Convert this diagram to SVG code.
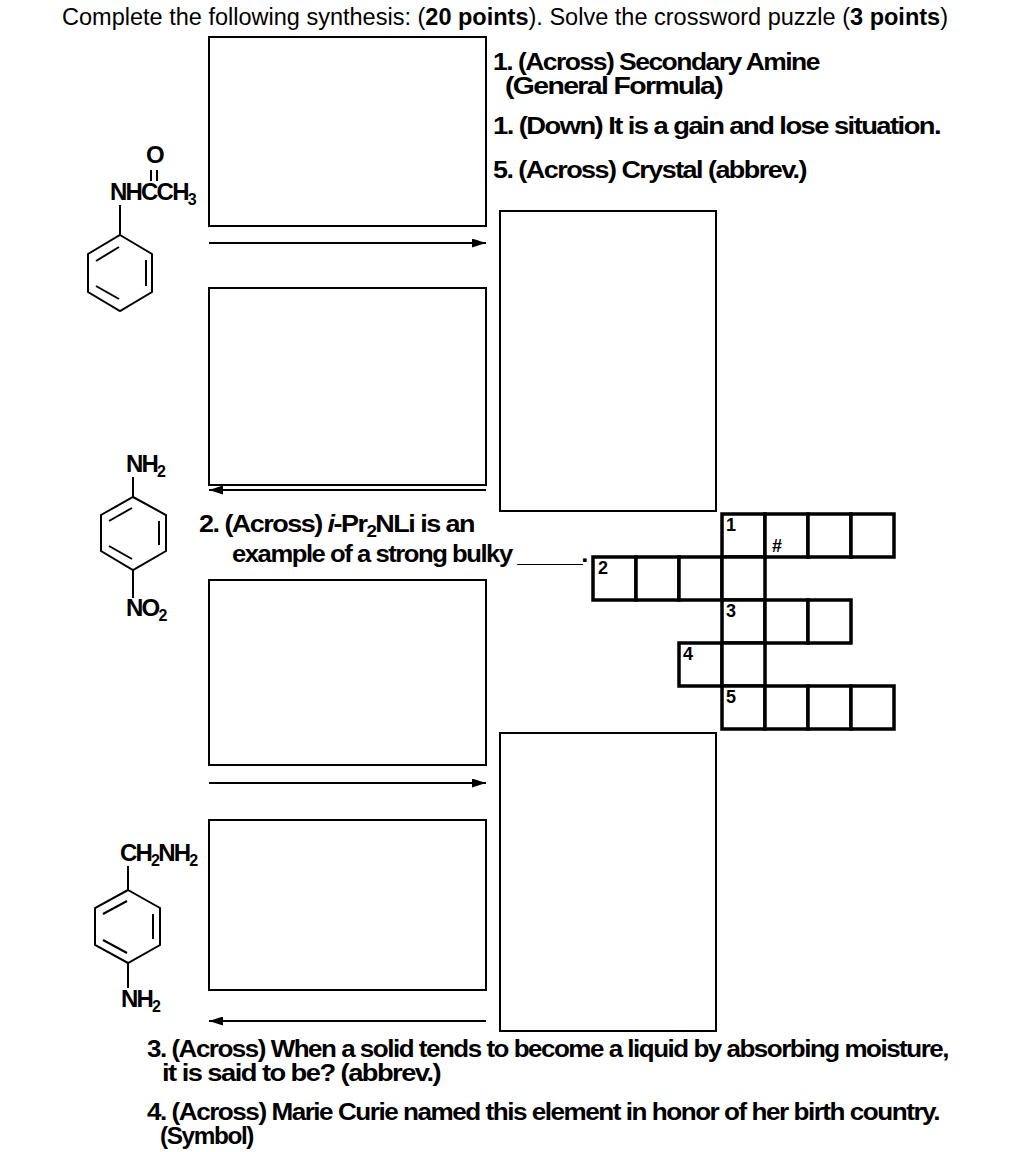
<svg xmlns="http://www.w3.org/2000/svg" width="1028" height="1152" viewBox="0 0 1028 1152">
<defs>
<marker id="ah" markerWidth="14" markerHeight="9" refX="14" refY="4.5" orient="auto" markerUnits="userSpaceOnUse"><path d="M0,0 L14,4.5 L0,9 Z" fill="#000"/></marker>
</defs>
<style>
.box{fill:#fff;stroke:#000;stroke-width:2}
.cell{fill:#fff;stroke:#000;stroke-width:3.5}
.ln{stroke:#000;stroke-width:2;fill:none}
.hdr{font-family:"Liberation Sans",Arial,sans-serif;font-size:23px}
.cl{font-family:"Liberation Sans",Arial,sans-serif;font-size:23px;font-weight:bold;letter-spacing:-1.3px}
.ch{font-family:"Liberation Sans",Arial,sans-serif;font-size:24px;font-weight:bold;letter-spacing:-1.8px}
.num{font-family:"Liberation Sans",Arial,sans-serif;font-size:18px;font-weight:bold}
</style>
<rect width="1028" height="1152" fill="#fff"/>
<text class="hdr" x="62" y="25" textLength="886" lengthAdjust="spacingAndGlyphs">Complete the following synthesis: (<tspan font-weight="bold">20 points</tspan>). Solve the crossword puzzle (<tspan font-weight="bold">3 points</tspan>)</text>
<g id="boxes">
<rect id="box1" class="box" x="209" y="37" width="277" height="189"/>
<rect id="box2" class="box" x="500" y="211" width="216" height="300"/>
<rect id="box3" class="box" x="209" y="288" width="277" height="197"/>
<rect id="box4" class="box" x="209" y="580" width="277" height="185"/>
<rect id="box5" class="box" x="500" y="733" width="216" height="298"/>
<rect id="box6" class="box" x="209" y="820" width="277" height="170"/>
</g>
<g id="connectors">
<line class="ln" x1="209" y1="243" x2="486" y2="243" marker-end="url(#ah)"/>
<line class="ln" x1="486" y1="490" x2="209" y2="490" marker-end="url(#ah)"/>
<line class="ln" x1="209" y1="783" x2="486" y2="783" marker-end="url(#ah)"/>
<line class="ln" x1="486" y1="1021" x2="209" y2="1021" marker-end="url(#ah)"/>
</g>
<g id="mol1">
<text class="ch" x="146" y="163">O</text>
<line class="ln" x1="151" y1="170" x2="151" y2="181"/><line class="ln" x1="157" y1="170" x2="157" y2="181"/>
<text class="ch" x="110" y="200">NHCCH<tspan font-size="16" dy="5">3</tspan></text>
<line class="ln" x1="120" y1="205" x2="120" y2="235"/>
<polygon class="ln" points="120,235 152,254 152,292 120,311 88,292 88,254"/>
<line class="ln" x1="146" y1="260" x2="146" y2="286"/>
<line class="ln" x1="96" y1="261" x2="119" y2="247"/>
<line class="ln" x1="96" y1="286" x2="119" y2="299"/>
</g>
<g id="mol2">
<text class="ch" x="126" y="472">NH<tspan font-size="16" dy="5">2</tspan></text>
<line class="ln" x1="133" y1="477" x2="133" y2="497"/>
<polygon class="ln" points="133,497 166,515 166,551 133,570 101,551 101,515"/>
<line class="ln" x1="159" y1="521" x2="159" y2="545"/>
<line class="ln" x1="109" y1="521" x2="132" y2="508"/>
<line class="ln" x1="109" y1="546" x2="132" y2="559"/>
<line class="ln" x1="133" y1="570" x2="133" y2="598"/>
<text class="ch" x="126" y="616">NO<tspan font-size="16" dy="5">2</tspan></text>
</g>
<g id="mol3">
<text class="ch" x="120" y="861">CH<tspan font-size="16" dy="5">2</tspan><tspan dy="-5">NH</tspan><tspan font-size="16" dy="5">2</tspan></text>
<line class="ln" x1="128" y1="866" x2="128" y2="890"/>
<polygon class="ln" points="128,890 160,908 160,945 128,963 95,945 95,908"/>
<line class="ln" x1="153" y1="914" x2="153" y2="939"/>
<line class="ln" x1="103" y1="914" x2="127" y2="901"/>
<line class="ln" x1="103" y1="940" x2="127" y2="953"/>
<line class="ln" x1="128" y1="963" x2="128" y2="988"/>
<text class="ch" x="121" y="1007">NH<tspan font-size="16" dy="5">2</tspan></text>
</g>
<g id="clues">
<text class="cl" x="493" y="70" textLength="326" lengthAdjust="spacingAndGlyphs">1. (Across) Secondary Amine</text>
<text class="cl" x="505" y="94" textLength="217" lengthAdjust="spacingAndGlyphs">(General Formula)</text>
<text class="cl" x="493" y="134" textLength="447" lengthAdjust="spacingAndGlyphs">1. (Down) It is a gain and lose situation.</text>
<text class="cl" x="493" y="178" textLength="313" lengthAdjust="spacingAndGlyphs">5. (Across) Crystal (abbrev.)</text>
<text class="cl" x="199" y="532" textLength="275" lengthAdjust="spacingAndGlyphs">2. (Across) <tspan font-style="italic">i</tspan>-Pr<tspan font-size="16" dy="5">2</tspan><tspan dy="-5">NLi is an</tspan></text>
<text class="cl" x="232" y="562" textLength="355" lengthAdjust="spacingAndGlyphs">example of a strong bulky _____.</text>
<text class="cl" x="147" y="1057" textLength="801" lengthAdjust="spacingAndGlyphs">3. (Across) When a solid tends to become a liquid by absorbing moisture,</text>
<text class="cl" x="162" y="1081" textLength="278" lengthAdjust="spacingAndGlyphs">it is said to be? (abbrev.)</text>
<text class="cl" x="147" y="1120" textLength="792" lengthAdjust="spacingAndGlyphs">4. (Across) Marie Curie named this element in honor of her birth country.</text>
<text class="cl" x="160" y="1144" textLength="93" lengthAdjust="spacingAndGlyphs">(Symbol)</text>
</g>
<g id="crossword">
<rect class="cell" x="722" y="514" width="43" height="43"/>
<rect class="cell" x="765" y="514" width="43" height="43"/>
<rect class="cell" x="808" y="514" width="43" height="43"/>
<rect class="cell" x="851" y="514" width="43" height="43"/>
<rect class="cell" x="593" y="557" width="43" height="43"/>
<rect class="cell" x="636" y="557" width="43" height="43"/>
<rect class="cell" x="679" y="557" width="43" height="43"/>
<rect class="cell" x="722" y="557" width="43" height="43"/>
<rect class="cell" x="722" y="600" width="43" height="43"/>
<rect class="cell" x="765" y="600" width="43" height="43"/>
<rect class="cell" x="808" y="600" width="43" height="43"/>
<rect class="cell" x="679" y="643" width="43" height="43"/>
<rect class="cell" x="722" y="643" width="43" height="43"/>
<rect class="cell" x="722" y="686" width="43" height="43"/>
<rect class="cell" x="765" y="686" width="43" height="43"/>
<rect class="cell" x="808" y="686" width="43" height="43"/>
<rect class="cell" x="851" y="686" width="43" height="43"/>
<text class="num" x="726" y="531">1</text>
<text class="num" x="772" y="552">#</text>
<text class="num" x="598" y="574">2</text>
<text class="num" x="726" y="617">3</text>
<text class="num" x="683" y="660">4</text>
<text class="num" x="726" y="703">5</text>
</g>
</svg>
